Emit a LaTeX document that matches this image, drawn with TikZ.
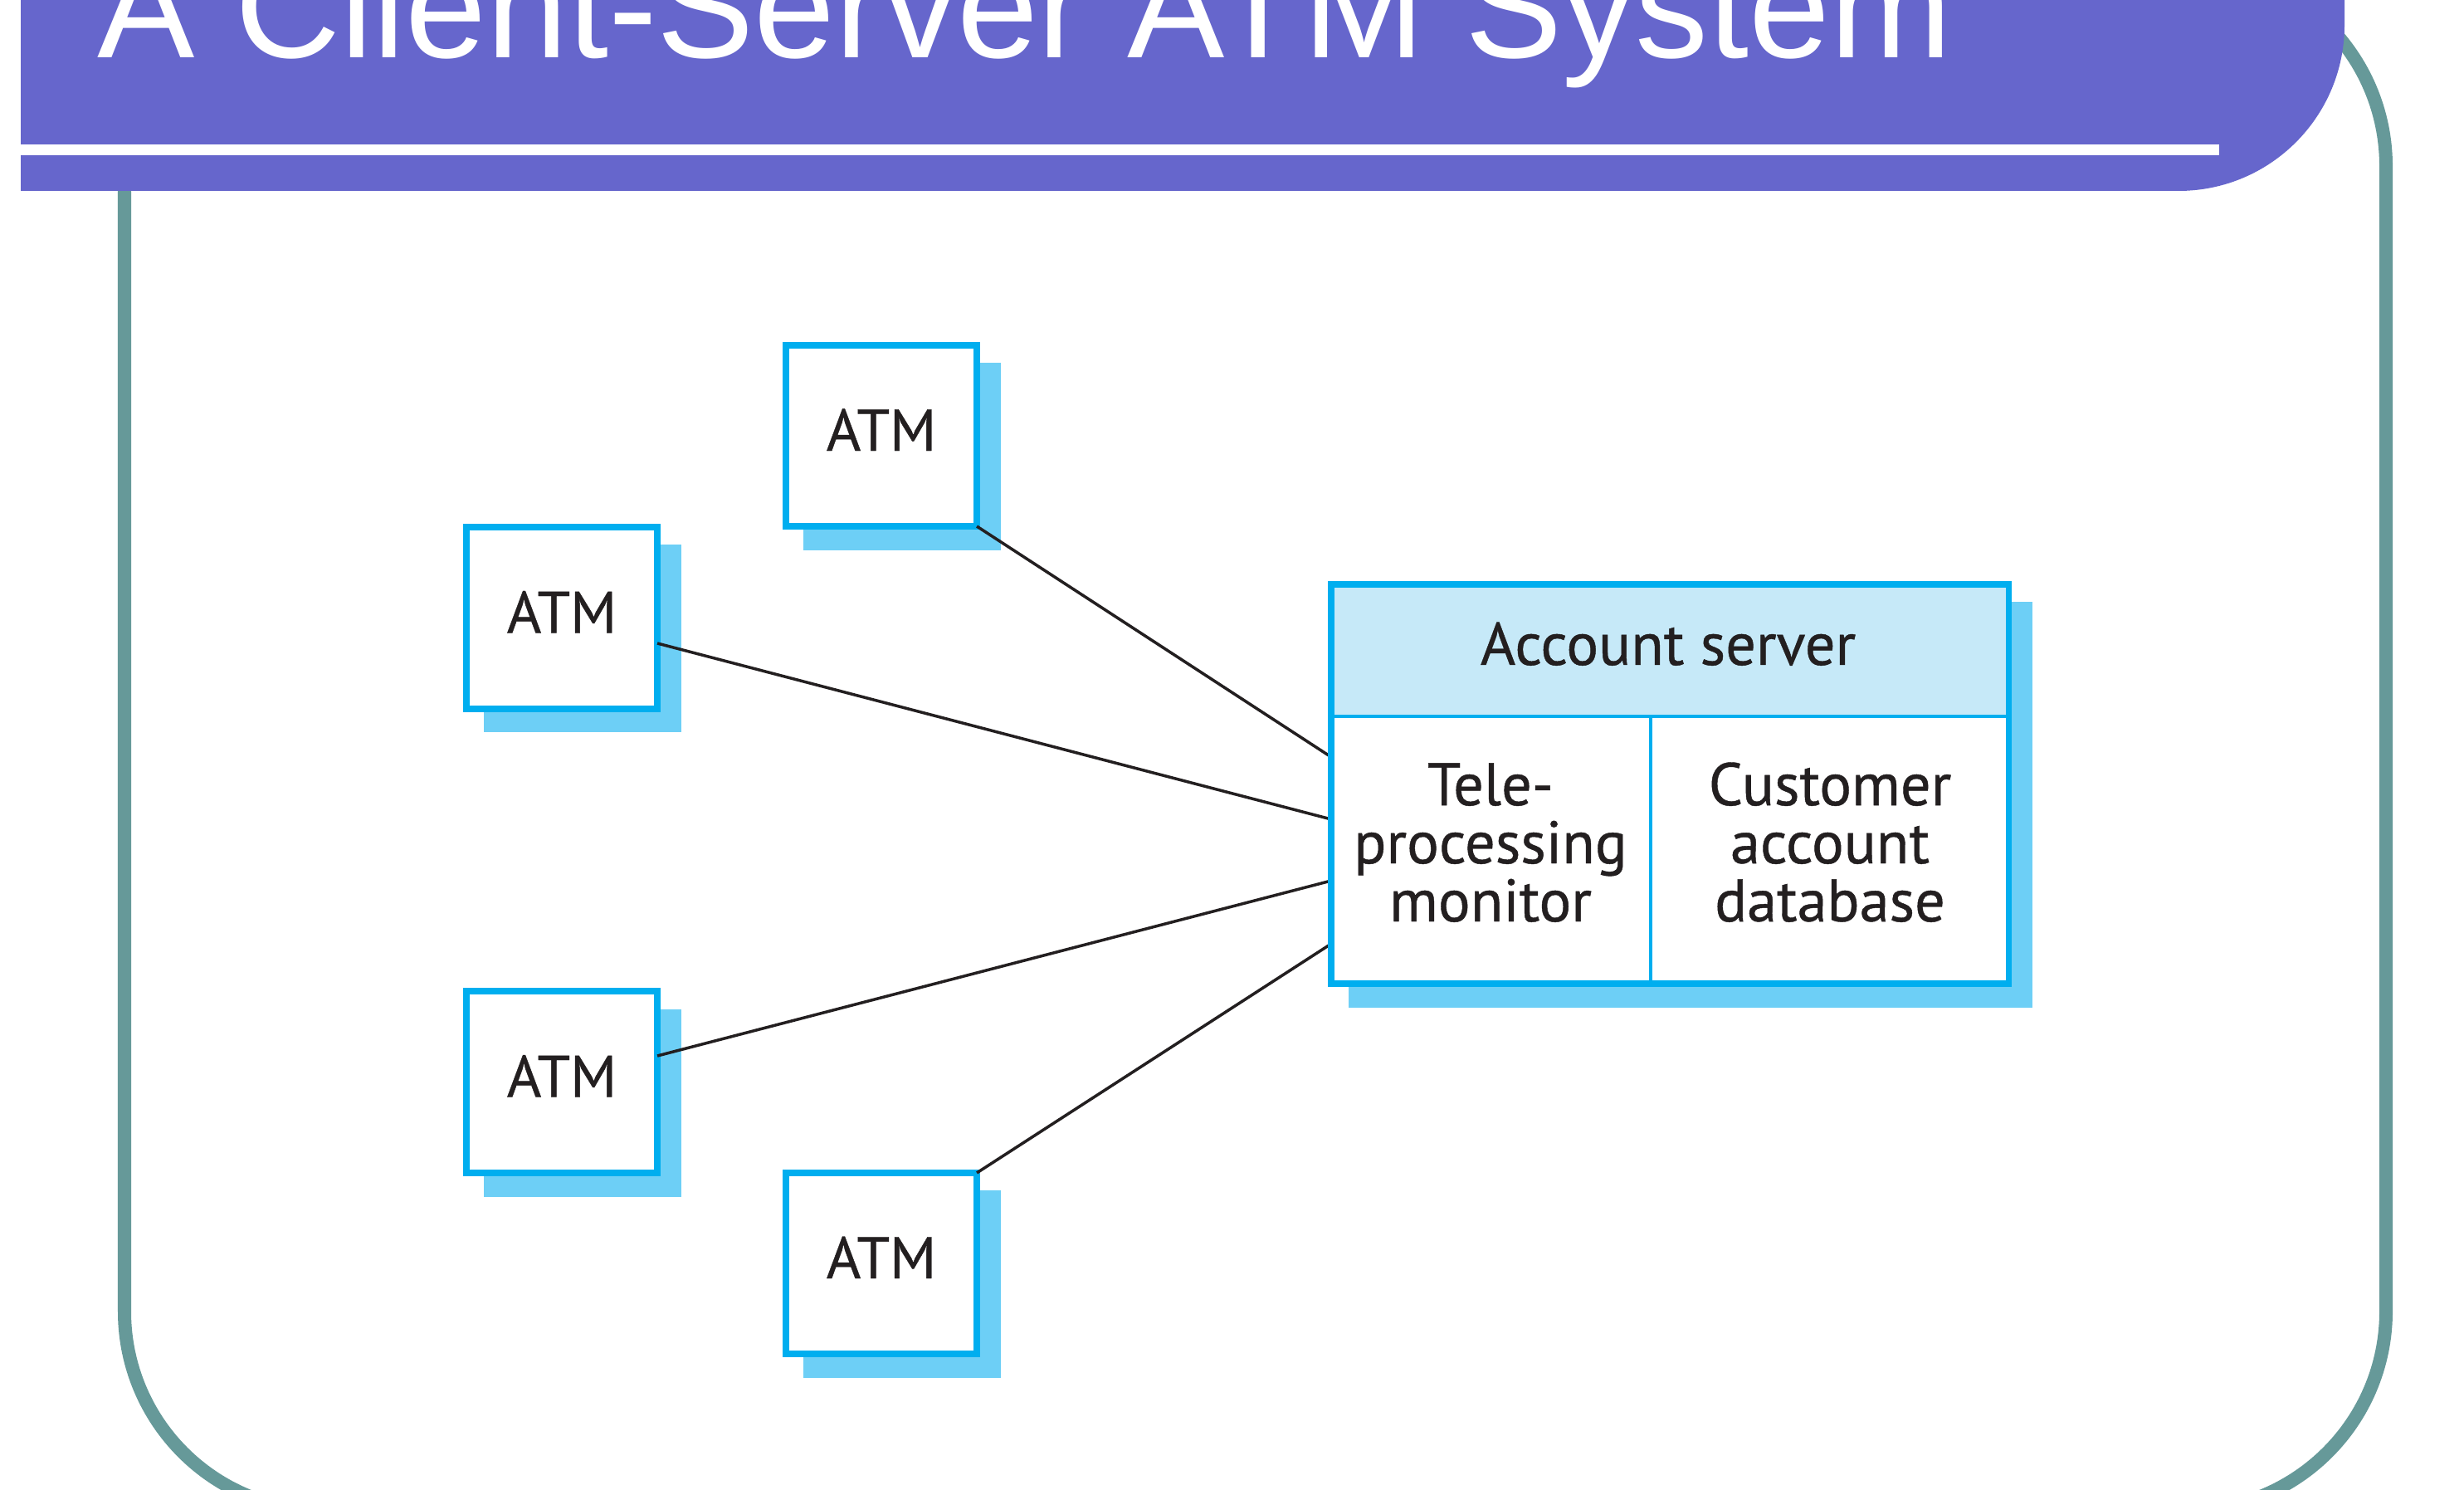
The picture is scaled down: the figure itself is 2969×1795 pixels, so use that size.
\documentclass[tikz,border=0pt]{standalone}
\usepackage{fontspec}
\setmainfont{PT Sans}[FakeBold=0.6]
\newfontfamily\titlefont{Liberation Sans}
\usetikzlibrary{calc}
\definecolor{framec}{RGB}{102,153,153}
\definecolor{bannerc}{RGB}{102,102,204}
\definecolor{cyanb}{RGB}{0,174,239}
\definecolor{shadowc}{RGB}{109,207,246}
\definecolor{headc}{RGB}{198,233,248}
\definecolor{inkc}{RGB}{35,31,32}
\begin{document}
\begin{tikzpicture}[x=0.01cm, y=-0.01cm,
  atmbox/.style={draw=cyanb, line width=0.08cm, fill=white, minimum width=2.30cm,
    minimum height=2.18cm, inner sep=0pt, outer sep=0pt, text=inkc,
    font=\fontsize{20.2}{20}\selectfont, text height=0.50cm, text depth=0.14cm},
  shadowfill/.style={fill=shadowc},
  wire/.style={draw=inkc, line width=0.035cm},
  celltext/.style={text=inkc, font=\fontsize{20.6}{19.9}\selectfont, align=center,
    inner sep=0pt, anchor=base}
]
\useasboundingbox (0,0) rectangle (2969,1795);
\clip (0,0) rectangle (2969,1795);
\fill[white] (0,0) rectangle (2969,1795);
% outer frame
\draw[framec, line width=0.16cm, rounded corners=2.4cm] (150,-40) rectangle (2875,1820);
% title banner
\fill[bannerc] (25,-300) -- (2825,-300) -- (2825,30)
  arc[start angle=0, end angle=90, radius=200] -- (25,230) -- cycle;
\fill[white] (25,174) rectangle (2674,187);
\node[anchor=base west, inner sep=0pt, text=white,
  font=\titlefont\fontsize{50}{60}\selectfont] (title) at (117,70) {A Client-Server ATM System};
% server frame (invisible reference node)
\node[minimum width=8.16cm, minimum height=4.81cm, inner sep=0pt, outer sep=0pt] (server) at (2012,944.5) {};
% shadows
\fill[shadowfill] ($(server.north west)+(21,21)$) rectangle ($(server.south east)+(29,29)$);
\foreach \cx/\cy in {1062/525, 677/744.5, 677/1303.5, 1062/1522}{
  \fill[shadowfill] (\cx-94,\cy-88) rectangle (\cx+144,\cy+138);
}
% connector end points on the server
\coordinate (c1) at (1604,912);
\coordinate (c2) at (1604,987);
\coordinate (c3) at (1604,1061);
\coordinate (c4) at (1604,1137);
% ATMs
\node[atmbox] (atma) at (1062,525) {ATM};
\node[atmbox] (atmb) at (677,744.5) {ATM};
\node[atmbox] (atmc) at (677,1303.5) {ATM};
\node[atmbox] (atmd) at (1062,1522) {ATM};
% connectors
\draw[wire] (atma.south east) -- (c1);
\draw[wire] (atmb.east |- 0,775) -- (c2);
\draw[wire] (atmc.east |- 0,1272) -- (c3);
\draw[wire] (atmd.north east) -- (c4);
% server box
\fill[white] (server.north west) rectangle (server.south east);
\fill[headc] (server.north west) rectangle (server.east |- 0,863);
\draw[cyanb, line width=0.046cm] (server.west |- 0,863) -- (server.east |- 0,863);
\draw[cyanb, line width=0.035cm] (1989,863) -- (server.south -| 1989,0);
\draw[cyanb, line width=0.075cm] (server.north west) rectangle (server.south east);
\node[celltext] (hdrtext) at (2010,801) {Account server};
\node[celltext] (tpm) at (1796,1110) {Tele-\\processing\\monitor};
\node[celltext] (cad) at (2205,1110) {Customer\\account\\database};
\end{tikzpicture}
\end{document}
